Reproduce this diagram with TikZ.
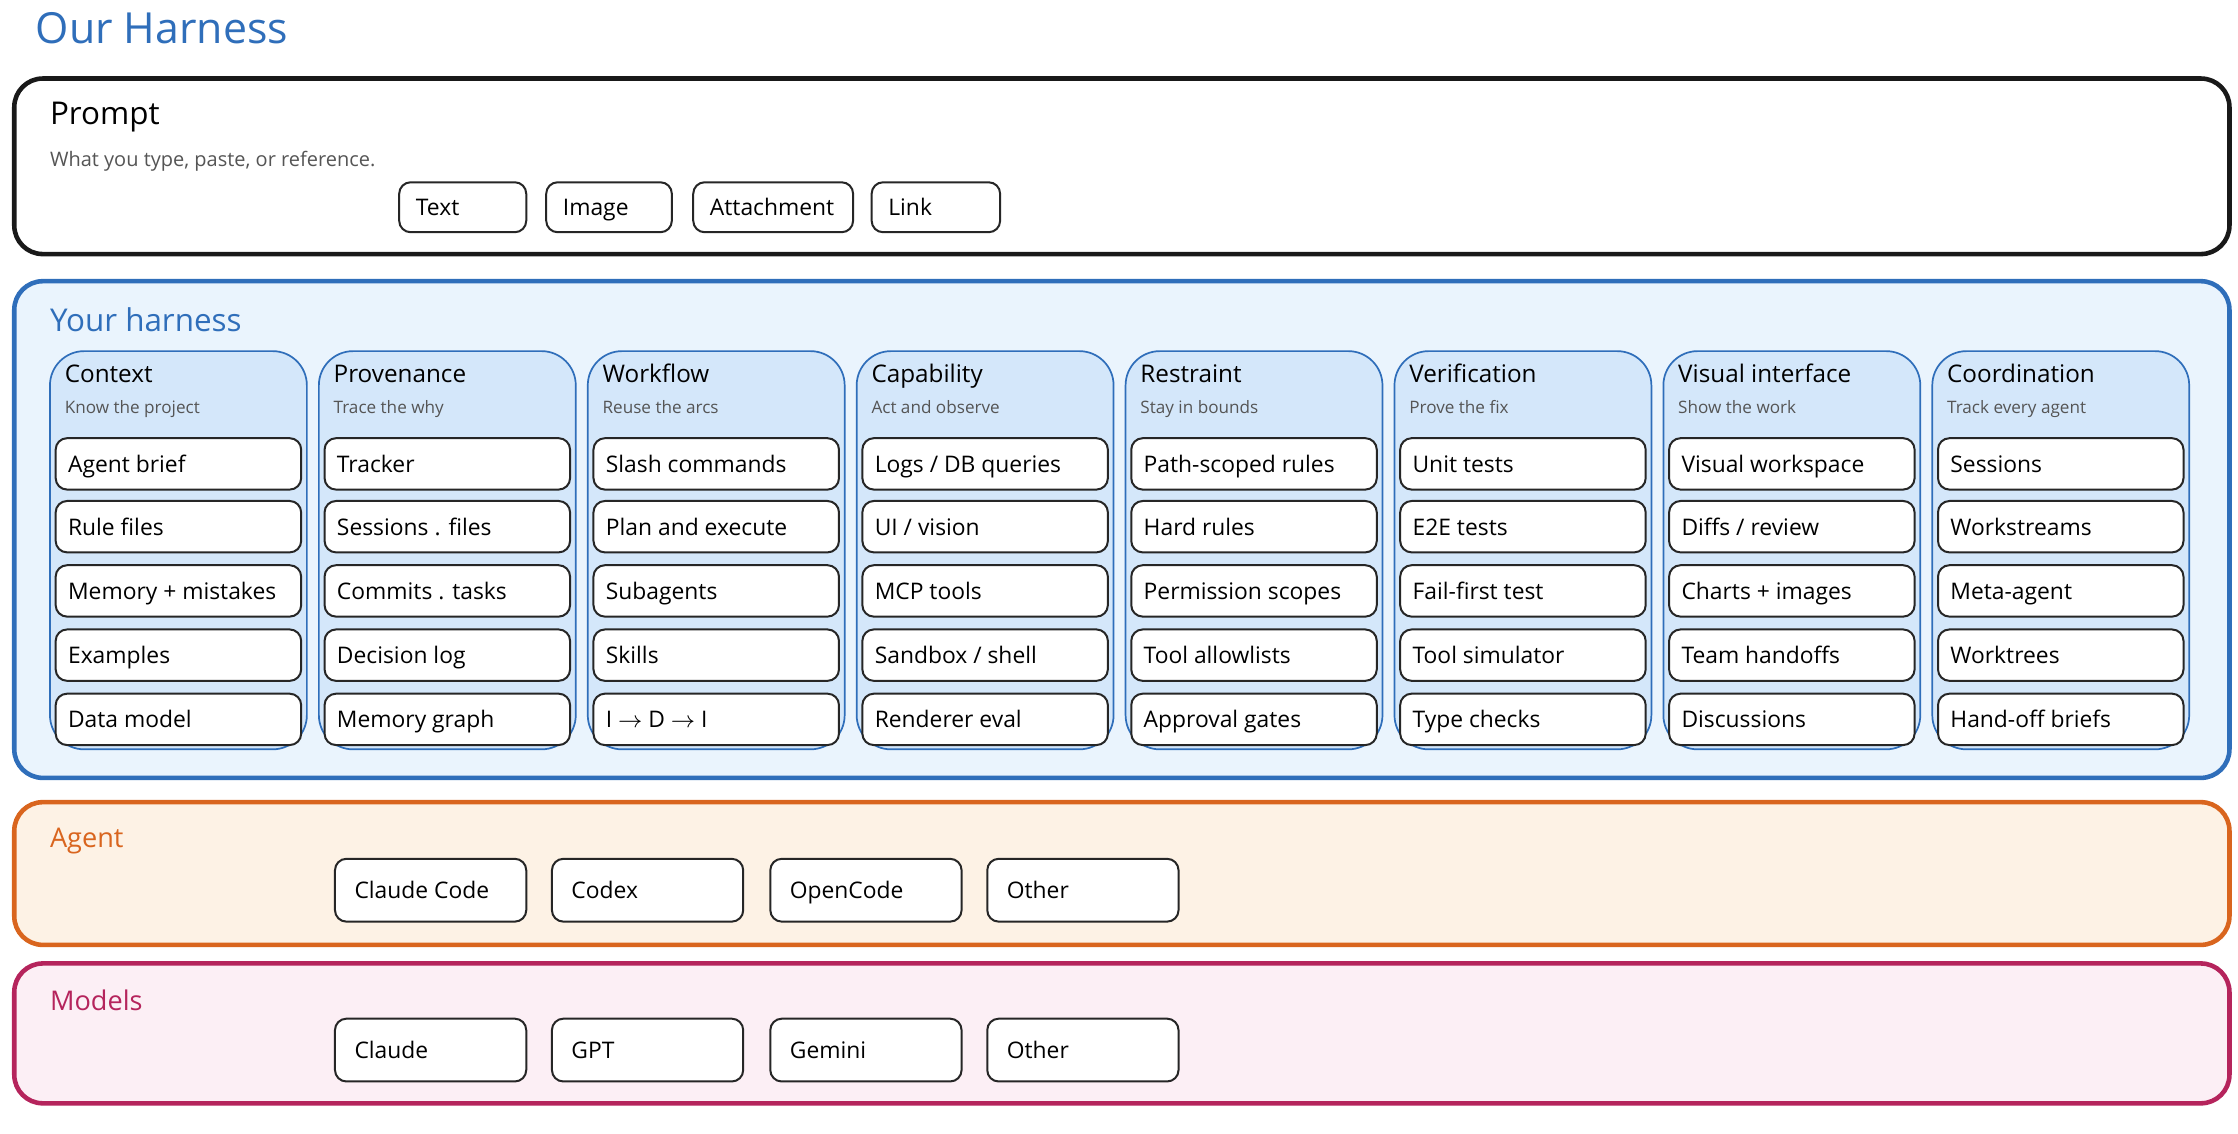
\documentclass[tikz,border=0pt]{standalone}
\usepackage{fontspec}
\setmainfont{Open Sans}
\definecolor{hblue}{HTML}{2F6EBA}
\definecolor{hbluebg}{HTML}{EAF4FD}
\definecolor{hcol}{HTML}{D4E7FA}
\definecolor{horange}{HTML}{D9651E}
\definecolor{horangebg}{HTML}{FDF2E5}
\definecolor{hred}{HTML}{B5245C}
\definecolor{hredbg}{HTML}{FCEFF5}
\definecolor{hgray}{HTML}{555555}
\begin{document}
\begin{tikzpicture}[x=0.5pt,y=-0.5pt,
 band/.style={draw,line width=1.6pt,rounded corners=10pt},
 col/.style={draw=hblue,line width=0.6pt,fill=hcol,rounded corners=12pt},
 box/.style={draw=black!85,line width=0.7pt,fill=white,rounded corners=4pt,inner sep=0pt},
 item/.style={box,minimum width=86pt,minimum height=18pt},
 lbl/.style={anchor=base west,font=\fontsize{8}{9}\selectfont,inner sep=0pt},
 btitle/.style={anchor=west,font=\fontsize{11}{12}\selectfont},
 ctitle/.style={anchor=base west,font=\fontsize{8.5}{9}\selectfont,inner sep=0pt},
 csub/.style={anchor=base west,font=\fontsize{6}{7}\selectfont,text=hgray,inner sep=0pt}]
\useasboundingbox (0,0) rectangle (1568,794);
\node[anchor=west,text=hblue,font=\fontsize{15}{16}\selectfont] (title) at (18,20) {Our Harness};
% Prompt
\draw[band,draw=black!90,fill=white] (10,55) rectangle (1562,178);
\node[btitle] (prompt) at (28,82) {Prompt};
\node[anchor=west,font=\fontsize{7}{8}\selectfont,text=hgray] (psub) at (28,113) {What you type, paste, or reference.};
\foreach \n/\x/\w/\t in {ptext/279/89/Text,pimage/382/88/Image,patt/485/112/Attachment,plink/610/90/Link}{
 \node[box,anchor=north west,minimum width=\w*0.5pt,minimum height=17.5pt] (\n) at (\x,127) {};
 \node[lbl] at ([xshift=6pt,yshift=-3pt]\n.west) {\t};
}
% Your harness
\draw[band,draw=hblue,fill=hbluebg] (10,197) rectangle (1562,545);
\node[btitle,text=hblue] (yh) at (28,224) {Your harness};
\foreach \i/\t/\s/\a/\b/\c/\d/\e in {
 0/Context/Know the project/Agent brief/Rule files/Memory + mistakes/Examples/Data model,
 1/Provenance/Trace the why/Tracker/Sessions . files/Commits . tasks/Decision log/Memory graph,
 2/Workflow/Reuse the arcs/Slash commands/Plan and execute/Subagents/Skills/{I $\rightarrow$ D $\rightarrow$ I},
 3/Capability/Act and observe/{Logs / DB queries}/{UI / vision}/MCP tools/{Sandbox / shell}/Renderer eval,
 4/Restraint/Stay in bounds/Path-scoped rules/Hard rules/Permission scopes/Tool allowlists/Approval gates,
 5/Verification/Prove the fix/Unit tests/E2E tests/Fail-first test/Tool simulator/Type checks,
 6/Visual interface/Show the work/Visual workspace/{Diffs / review}/Charts + images/Team handoffs/Discussions,
 7/Coordination/Track every agent/Sessions/Workstreams/Meta-agent/Worktrees/Hand-off briefs}{
 \pgfmathsetmacro{\cx}{35+188.4*\i}
 \draw[col] (\cx,246) rectangle (\cx+180,525);
 \node[ctitle] (c\i) at (\cx+10,268) {\t};
 \node[csub] (s\i) at (\cx+10,290) {\s};
 \foreach \k/\y/\txt in {1/325/{\a},2/369/{\b},3/414/{\c},4/459/{\d},5/504/{\e}}{
  \node[item] (i\i-\k) at (\cx+90,\y) {};
  \node[lbl] at ([xshift=4.5pt,yshift=-3pt]i\i-\k.west) {\txt};
 }
}
% Agent
\draw[band,draw=horange,fill=horangebg] (10,562) rectangle (1562,662);
\node[btitle,text=horange,font=\fontsize{9.5}{10}\selectfont] (agent) at (28,589) {Agent};
% Models
\draw[band,draw=hred,fill=hredbg] (10,675) rectangle (1562,773);
\node[btitle,text=hred,font=\fontsize{9.5}{10}\selectfont] (models) at (28,701) {Models};
\foreach \j/\x in {1/234,2/386,3/539,4/691}{
 \node[box,anchor=north west,minimum width=67pt,minimum height=22pt] (a\j) at (\x,601) {};
 \node[box,anchor=north west,minimum width=67pt,minimum height=22pt] (m\j) at (\x,713) {};
}
\foreach \j/\t in {1/Claude Code,2/Codex,3/OpenCode,4/Other}{
 \node[lbl] at ([xshift=7pt,yshift=-3pt]a\j.west) {\t};}
\foreach \j/\t in {1/Claude,2/GPT,3/Gemini,4/Other}{
 \node[lbl] at ([xshift=7pt,yshift=-3pt]m\j.west) {\t};}
\end{tikzpicture}
\end{document}
